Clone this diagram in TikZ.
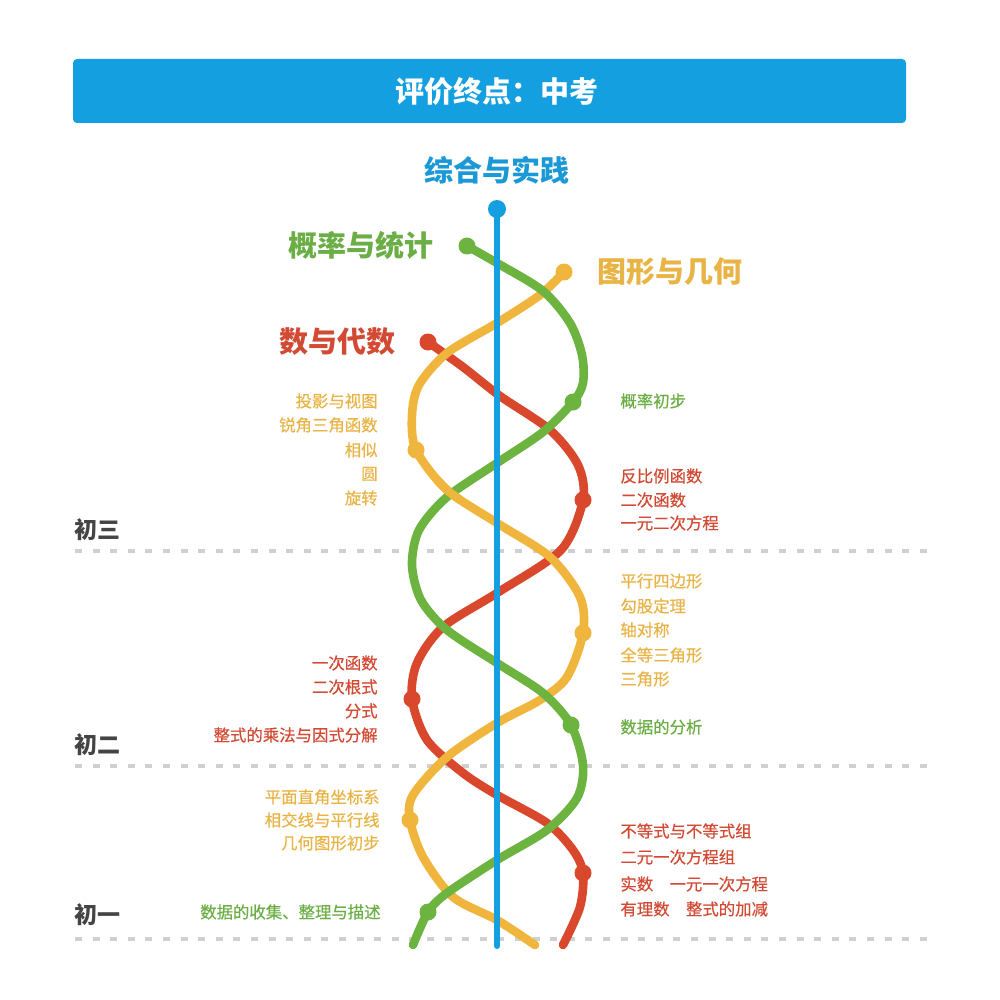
\documentclass[tikz,border=0pt]{standalone}
\usepackage{fontspec}
\newfontfamily\cjk{Noto Sans CJK SC}
\newfontfamily\cjkm{Noto Sans CJK SC}[FakeBold=0.4]
\definecolor{cblue}{HTML}{139FE0}
\definecolor{ctitle}{HTML}{1B98D6}
\definecolor{cgreen}{HTML}{6DB33F}
\definecolor{cyellow}{HTML}{F0B53D}
\definecolor{cred}{HTML}{D9472C}
\definecolor{tgreen}{HTML}{6AAE45}
\definecolor{tyellow}{HTML}{E9B446}
\definecolor{tred}{HTML}{D24A34}
\definecolor{cgray}{HTML}{444444}
\definecolor{cdot}{HTML}{D0D0D0}
\begin{document}
\begin{tikzpicture}[x=0.5pt,y=-0.5pt,
  strand/.style={line width=4.3pt,line cap=round,line join=round},
  knot/.style={circle,inner sep=0pt,minimum size=8.5pt},
  lab/.style={inner sep=0pt,font=\cjkm\fontsize{8.2}{10}\selectfont},
  leftlab/.style={lab,anchor=east},
  rightlab/.style={lab,anchor=west},
  bigtitle/.style={inner sep=0pt,font=\cjk\bfseries\fontsize{14.5}{17}\selectfont},
  grade/.style={inner sep=0pt,anchor=west,text=cgray,font=\cjk\bfseries\fontsize{11.5}{13}\selectfont},
  gridline/.style={cdot,line width=2pt,dash pattern=on 3.5pt off 5.3pt}
]
\useasboundingbox (0,0) rectangle (1000,1000);
\fill[white] (0,0) rectangle (1000,1000);

% header
\fill[cblue,rounded corners=2pt] (73,59) rectangle (906,123);
\node[bigtitle,text=white] (header) at (497,92) {评价终点：中考};

% grade separators
\draw[gridline] (75,551) -- (927,551);
\draw[gridline] (75,766) -- (927,766);
\draw[gridline] (75,939) -- (927,939);
\node[grade] (g3) at (74,530) {初三};
\node[grade] (g2) at (74,745) {初二};
\node[grade] (g1) at (74,915) {初一};

% titles
\node[bigtitle,text=ctitle] (zh) at (497,170) {综合与实践};
\node[bigtitle,text=tgreen,anchor=east] (gl) at (434,245) {概率与统计};
\node[bigtitle,text=tyellow,anchor=west] (tx) at (597,272) {图形与几何};
\node[bigtitle,text=tred,anchor=east] (sd) at (396,342) {数与代数};

% strands
\def\redpath{(428,342) (463,367) (500,396) (550,430) (578,465) (583,500) (561,550) (497,593) (443,627) (417,663) (412,699) (427,740) (463,773) (497,795) (547,823) (573,850) (583,873) (580,907) (563,945)}
\def\yellowpath{(564,272) (540,295) (497,323) (447,353) (419,385) (412,415) (416,450) (447,490) (497,523) (550,557) (580,597) (583,633) (567,677) (540,700) (497,723) (447,757) (413,795) (410,820) (423,857) (453,897) (497,920) (535,945)}
\def\greenpath{(467,246) (497,263) (543,291) (570,323) (582,355) (583,383) (573,402) (543,432) (497,463) (447,497) (419,530) (412,565) (421,600) (447,630) (497,663) (543,693) (571,725) (583,765) (577,798) (547,830) (497,860) (447,893) (428,912) (413,945)}
\draw[strand,cred] plot[smooth] coordinates {\redpath};
\draw[strand,cyellow] plot[smooth] coordinates {\yellowpath};
\draw[strand,cgreen] plot[smooth] coordinates {\greenpath};
\begin{scope}
  \clip (447,492) circle[radius=8pt];
  \draw[strand,cyellow] plot[smooth] coordinates {\yellowpath};
\end{scope}

% dots on strands
\node[knot,fill=cgreen] (gs) at (467,246) {};
\node[knot,fill=cgreen] (g1d) at (573,402) {};
\node[knot,fill=cgreen] (g2d) at (571,725) {};
\node[knot,fill=cgreen] (g3d) at (428,912) {};
\node[knot,fill=cred] (rs) at (428,342) {};
\node[knot,fill=cred] (r1d) at (583,500) {};
\node[knot,fill=cred] (r2d) at (412,699) {};
\node[knot,fill=cred] (r3d) at (583,873) {};
\node[knot,fill=cyellow] (ys) at (564,272) {};
\node[knot,fill=cyellow] (y1d) at (416,450) {};
\node[knot,fill=cyellow] (y2d) at (583,633) {};
\node[knot,fill=cyellow] (y3d) at (410,820) {};

% central axis
\node[circle,fill=cblue,inner sep=0pt,minimum size=9pt] (top) at (497,209) {};
\coordinate (bottom) at (497,946);
\draw[cblue,line width=3pt,line cap=round] (top.center) -- (bottom);

% left labels
\node[leftlab,text=tyellow] (l1) at (378,401) {投影与视图};
\node[leftlab,text=tyellow] (l2) at (378,425) {锐角三角函数};
\node[leftlab,text=tyellow] (l3) at (378,450) {相似};
\node[leftlab,text=tyellow] (l4) at (378,474) {圆};
\node[leftlab,text=tyellow] (l5) at (378,498) {旋转};
\node[leftlab,text=tred] (l6) at (378,663) {一次函数};
\node[leftlab,text=tred] (l7) at (378,687) {二次根式};
\node[leftlab,text=tred] (l8) at (378,711) {分式};
\node[leftlab,text=tred] (l9) at (378,735) {整式的乘法与因式分解};
\node[leftlab,text=tyellow] (l10) at (380,797) {平面直角坐标系};
\node[leftlab,text=tyellow] (l11) at (380,820) {相交线与平行线};
\node[leftlab,text=tyellow] (l12) at (380,843) {几何图形初步};
\node[leftlab,text=tgreen] (l13) at (381,912) {数据的收集、整理与描述};

% right labels
\node[rightlab,text=tgreen] (r1) at (620,401) {概率初步};
\node[rightlab,text=tred] (r2) at (620,476) {反比例函数};
\node[rightlab,text=tred] (r3) at (620,500) {二次函数};
\node[rightlab,text=tred] (r4) at (620,523) {一元二次方程};
\node[rightlab,text=tyellow] (r5) at (620,581) {平行四边形};
\node[rightlab,text=tyellow] (r6) at (620,606) {勾股定理};
\node[rightlab,text=tyellow] (r7) at (620,630) {轴对称};
\node[rightlab,text=tyellow] (r8) at (620,655) {全等三角形};
\node[rightlab,text=tyellow] (r9) at (620,679) {三角形};
\node[rightlab,text=tgreen] (r10) at (620,727) {数据的分析};
\node[rightlab,text=tred] (r11) at (620,831) {不等式与不等式组};
\node[rightlab,text=tred] (r12) at (620,857) {二元一次方程组};
\node[rightlab,text=tred] (r13) at (620,884) {实数\hspace{1em}一元一次方程};
\node[rightlab,text=tred] (r14) at (620,909) {有理数\hspace{1em}整式的加减};
\end{tikzpicture}
\end{document}
